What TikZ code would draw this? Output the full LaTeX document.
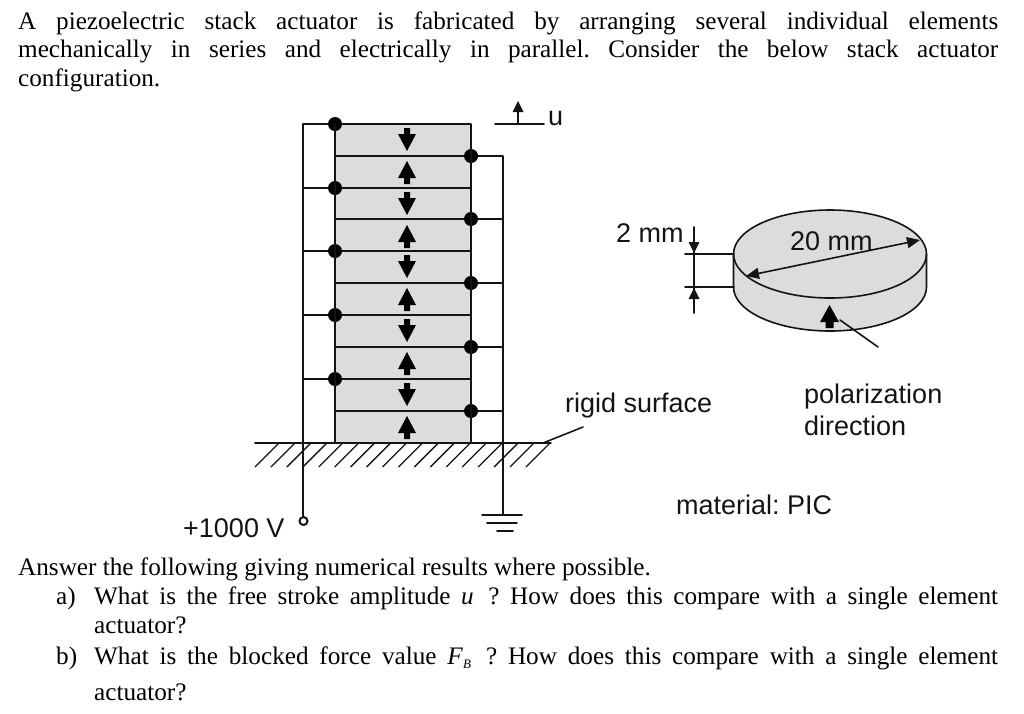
\documentclass[tikz,border=0pt]{standalone}
\usepackage{fontspec}
\usepackage{tkz-euclide}
\usetikzlibrary{arrows.meta}
\setmainfont{Liberation Serif}
\setsansfont{Liberation Sans}
\frenchspacing
\definecolor{wire}{HTML}{141414}
\definecolor{ceramic}{HTML}{DCDCDC}
\newcommand{\fullline}[2]{\hbox to #1pt{#2}}
\tikzset{
  wiring/.style={draw=wire,line width=1.6pt},
  txt/.style={anchor=base west,inner sep=0pt,font=\fontsize{25.2}{29}\selectfont},
  lbl/.style={anchor=base west,inner sep=0pt,font=\sffamily\fontsize{27}{32}\selectfont,text=wire},
  polar/.pic={\fill[black] (-3,12) -- (-3,6) -- (-9,6) -- (0,-11) -- (9,6) -- (3,6) -- (3,12) -- cycle;},
  tip/.pic={\fill[wire] (0,0) -- (-5.5,-11) -- (5.5,-11) -- cycle;}
}
\begin{document}
\begin{tikzpicture}[x=1pt,y=-1pt]
    \useasboundingbox (0,0) rectangle (1024,713);
    \tkzDefPoints{335/124/S_a,471/124/S_b,471/443/S_c,335/443/S_d,303/124/P_a,303/516/P_b,
      503/156/Q_a,503/515/Q_b,255/443/R_a,551/443/R_b,495/124/U_a,544/124/U_b,518/124/U_c,518/108/U_d,
      482/515/G_a,522/515/G_b,487/523/G_c,517/523/G_d,497/531/G_e,513/531/G_f,
      543/443/K_a,583/427/K_b}
    \fill[ceramic] (S_a) rectangle (S_c);
    \foreach \i/\y in {1/124,2/188,3/251,4/315,5/379}{
      \tkzDefPoint(303,\y){W_\i} \tkzDefPoint(335,\y){A_\i} \tkzDefPoint(471,\y){A'_\i}
      \draw[wiring] (W_\i) -- (A'_\i);
      \fill[black] (A_\i) circle (7);
    }
    \foreach \i/\y in {1/156,2/219,3/283,4/347,5/411}{
      \tkzDefPoint(503,\y){V_\i} \tkzDefPoint(471,\y){B_\i} \tkzDefPoint(335,\y){B'_\i}
      \draw[wiring] (V_\i) -- (B'_\i);
      \fill[black] (B_\i) circle (7);
    }
    \tkzDrawSegments[wiring](S_a,S_d S_b,S_c P_a,P_b Q_a,Q_b R_a,R_b U_a,U_b K_a,K_b)
    \tkzDrawSegments[wiring](G_a,G_b G_c,G_d G_e,G_f U_c,U_d)
    \pic[yscale=-1] at (518,101) {tip};
    \foreach \y in {140,204,267,331,395}{\pic[yscale=-1] at (407,\y) {polar};}
    \foreach \y in {172,236,299,363,427}{\pic at (407,\y) {polar};}
    \foreach \x in {0,...,17}{
      \draw[wire,line width=1.3pt] (255+\x*15.94,467) -- (279+\x*15.94,443);
    }
    \filldraw[wire,line width=2pt,fill=white] (303.5,521) circle (4);
    \draw[wiring,fill=ceramic] (733.5,254) -- (733.5,287) arc[start angle=180,end angle=0,x radius=96.5,y radius=44]
      -- (926.5,254) arc[start angle=0,end angle=-180,x radius=96.5,y radius=44] -- cycle;
    \draw[wiring] (733.5,254) arc[start angle=180,end angle=0,x radius=96.5,y radius=44];
    \tkzDefPoints{685/254/D_a,734/254/D_b,685/287/D_c,734/287/D_d,694/227/D_e,694/313/D_f,
      840/320/E_a,878/347/E_b,746/276/F_a,920/240/F_b}
    \tkzDrawSegments[wiring](D_a,D_b D_c,D_d D_e,D_f E_a,E_b)
    \draw[wiring,{Triangle[length=13pt,width=11pt]}-{Triangle[length=13pt,width=11pt]}] (F_a) -- (F_b);
    \pic at (694,253) {tip};
    \pic[yscale=-1] at (694,288) {tip};
    \fill[black] (825.5,328) -- (825.5,322) -- (820,322) -- (829.5,305) -- (839,322) -- (833.5,322) -- (833.5,328) -- cycle;
    \node[lbl] (labu) at (548,125) {u};
    \node[lbl] (labthick) at (616,242) {2 mm};
    \node[lbl] (labdiam) at (790,250) {20 mm};
    \node[lbl] (labrigid) at (565,412) {rigid surface};
    \node[lbl] (labpol) at (804,403) {polarization};
    \node[lbl] (labdir) at (804,435) {direction};
    \node[lbl] (labmat) at (676,514) {material: PIC};
    \node[lbl] (labvolt) at (183,537) {+1000 V};
    \node[txt] (para1) at (18,29) {\fullline{980}{A piezoelectric stack actuator is fabricated by arranging several individual elements}};
    \node[txt] (para2) at (18,57) {\fullline{980}{mechanically in series and electrically in parallel. Consider the below stack actuator}};
    \node[txt] (para3) at (18,86) {configuration.};
    \node[txt] (ans) at (18,575) {Answer the following giving numerical results where possible.};
    \node[txt] (itema) at (56,604) {a)};
    \node[txt] (itemaa) at (94,604) {\fullline{904}{What is the free stroke amplitude \textit{u} \,? How does this compare with a single element}};
    \node[txt] (itemab) at (94,633) {actuator?};
    \node[txt] (itemb) at (56,664) {b)};
    \node[txt] (itemba) at (94,664) {\fullline{904}{What is the blocked force value \textit{F}\raisebox{-4pt}{\fontsize{13}{13}\selectfont\textit{B}} \,? How does this compare with a single element}};
    \node[txt] (itembb) at (94,700) {actuator?};
\end{tikzpicture}
\end{document}
